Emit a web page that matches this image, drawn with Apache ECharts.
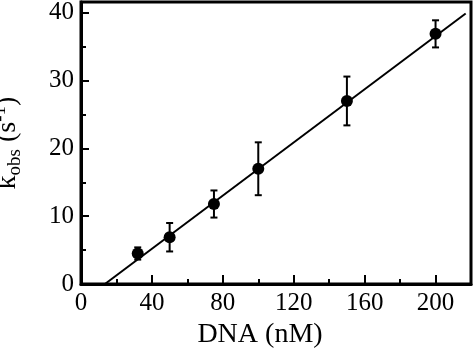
<!DOCTYPE html>
<html>
<head>
<meta charset="UTF-8">
<title>kobs vs DNA</title>
<script src="https://cdn.jsdelivr.net/npm/echarts@6/dist/echarts.min.js"></script>
<style>
  html, body { margin: 0; padding: 0; background: #fff; }
  #main { width: 474px; height: 351px; }
</style>
</head>
<body>
<div id="main"></div>
<script>
// measured points
var dna = [32, 50, 75, 100, 150, 200];
var kobs = [4.5, 6.9, 11.8, 17.0, 27.0, 36.9];
var kerr = [0.9, 2.1, 2.0, 3.9, 3.6, 2.0];
// linear fit end points
var fitX = [13.5, 217];
var fitY = [0, 39.9];

var font = 'Liberation Serif';
var chart = echarts.init(document.getElementById('main'));

var pts = dna.map(function (x, i) { return [x, kobs[i]]; });
var bars = dna.map(function (x, i) { return [x, kobs[i] - kerr[i], kobs[i] + kerr[i]]; });
var fit = fitX.map(function (x, i) { return [x, fitY[i]]; });

chart.setOption({
  animation: false,
  grid: {
    left: 81, right: 3, top: 2, bottom: 67,
    outerBoundsMode: 'none', containLabel: false,
    show: true, borderColor: '#000', borderWidth: 3
  },
  xAxis: {
    type: 'value', min: 0, max: 220, interval: 40,
    name: 'DNA (nM)', nameLocation: 'middle', nameGap: 36,
    nameTextStyle: { fontFamily: font, fontSize: 28, color: '#000', padding: [0, 32, 0, 0] },
    axisLine: { lineStyle: { color: '#000', width: 3 } },
    axisTick: { inside: true, length: 9, lineStyle: { color: '#000', width: 2 } },
    minorTick: { show: true, splitNumber: 2, length: 5, lineStyle: { color: '#000', width: 2 } },
    axisLabel: { fontFamily: font, fontSize: 25, color: '#000', margin: 7, showMaxLabel: false },
    splitLine: { show: false }
  },
  yAxis: {
    type: 'value', min: 0, max: 41.6, interval: 10,
    name: '{k|k}{sub|obs}{k| (s}{sup|-1}{k|)}', nameLocation: 'middle', nameGap: 56,
    nameTextStyle: {
      fontFamily: font, color: '#000',
      rich: {
        k: { fontFamily: font, fontSize: 28, color: '#000', lineHeight: 34 },
        sub: { fontFamily: font, fontSize: 19, color: '#000', lineHeight: 34, verticalAlign: 'bottom', padding: [10, 0, 0, 0] },
        sup: { fontFamily: font, fontSize: 19, color: '#000', lineHeight: 34, verticalAlign: 'top', padding: [0, 0, 10, 0] }
      }
    },
    axisLine: { lineStyle: { color: '#000', width: 3 } },
    axisTick: { inside: true, length: 8, lineStyle: { color: '#000', width: 2 } },
    minorTick: { show: true, splitNumber: 2, length: 5, lineStyle: { color: '#000', width: 2 } },
    axisLabel: { fontFamily: font, fontSize: 25, color: '#000', margin: 7, showMaxLabel: false },
    splitLine: { show: false }
  },
  series: [
    {
      type: 'line', data: fit, symbol: 'none',
      lineStyle: { color: '#000', width: 2 }, z: 2
    },
    {
      type: 'custom', data: bars, z: 3,
      renderItem: function (params, api) {
        var x = api.value(0);
        var lo = api.coord([x, api.value(1)]);
        var hi = api.coord([x, api.value(2)]);
        var w = 3.5;
        var st = { stroke: '#000', lineWidth: 2 };
        return {
          type: 'group',
          children: [
            { type: 'line', shape: { x1: lo[0], y1: lo[1], x2: hi[0], y2: hi[1] }, style: st },
            { type: 'line', shape: { x1: lo[0] - w, y1: lo[1], x2: lo[0] + w, y2: lo[1] }, style: st },
            { type: 'line', shape: { x1: hi[0] - w, y1: hi[1], x2: hi[0] + w, y2: hi[1] }, style: st }
          ]
        };
      }
    },
    {
      type: 'scatter', data: pts, symbol: 'circle', symbolSize: 12,
      itemStyle: { color: '#000', opacity: 1 }, z: 4
    }
  ]
});
</script>
</body>
</html>
